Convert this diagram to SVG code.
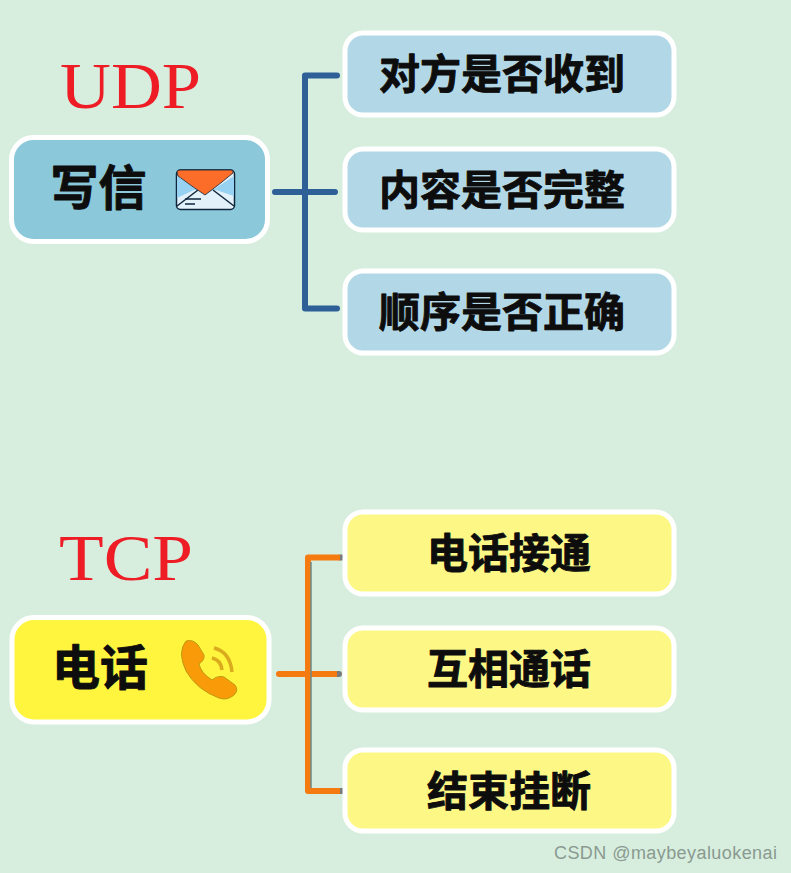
<svg xmlns="http://www.w3.org/2000/svg" width="791" height="873" viewBox="0 0 791 873">
<style>
.bg{fill:#d7eedf}
.box{stroke:#fff;stroke-width:5}
.t{font-family:"Noto Sans CJK SC","Noto Sans CJK JP",sans-serif;font-weight:700;fill:#0d0d0d;stroke:#0d0d0d;stroke-width:.9;stroke-linejoin:round;text-anchor:middle}
.s{font-size:41px}
.m{font-size:48px}
.h{font-family:"Liberation Serif",serif;font-size:66px;fill:#ee1c25}
.blue{fill:none;stroke:#2f5f97;stroke-width:6;stroke-linecap:round;stroke-linejoin:round}
.or{fill:none;stroke:#f57a10;stroke-width:6;stroke-linejoin:round}
.tip{fill:none;stroke:#77797a;stroke-width:6;stroke-linecap:round}
.b1{fill:#8ac8da}.b2{fill:#b2d8e8}.y1{fill:#fff53f}.y2{fill:#fdf886}
</style>
<rect class="bg" width="791" height="873"/>
<text id="label-udp" class="h" x="60" y="108" textLength="141" lengthAdjust="spacingAndGlyphs">UDP</text>
<text id="label-tcp" class="h" x="59" y="580" textLength="134" lengthAdjust="spacingAndGlyphs">TCP</text>
<g id="connectors">
<path class="blue" d="M337 75.500H305V308.500H337M275 192H335"/>
<path class="tip" d="M340 557.500H342M340 791H342M337 674H339"/>
<path class="or" d="M340 557.500H308V791H340M280 674H337"/>
<path d="M279 674H282" class="or" stroke-linecap="round"/>
<path d="M311 562V788" fill="none" stroke="#6f8a86" stroke-width="1.500"/>
</g>
<g id="node-letter">
<rect class="box b1" x="11.500" y="137.500" width="256" height="104" rx="22"/>
<text class="t m" x="98.500" y="205">写信</text>
<g id="icon-envelope">
<rect x="176.500" y="170" width="58" height="39.500" rx="4" fill="#e3f1fa" stroke="#10263c" stroke-width="1.500"/>
<path d="M177 176L205 195L234 176V196L216 190H194L177 198Z" fill="#98d2f3"/>
<path d="M177 206L198 190M234 206L213 190" fill="none" stroke="#10263c" stroke-width="1.500"/>
<path d="M177 172Q177 170 180 170H231Q234 170 233 173Q220 184 205 195Q190 185 178 176Z" fill="#fb6d28" stroke="#10263c" stroke-width=".8"/>
<path d="M185 199H201M185 204H195" stroke="#10263c" stroke-width="1.300"/>
</g>
</g>
<g id="node-u1">
<rect class="box b2" x="345" y="33" width="329" height="82" rx="18"/>
<text class="t s" x="502" y="89">对方是否收到</text>
</g>
<g id="node-u2">
<rect class="box b2" x="345" y="149" width="329" height="81" rx="18"/>
<text class="t s" x="502" y="205">内容是否完整</text>
</g>
<g id="node-u3">
<rect class="box b2" x="345" y="271" width="329" height="82" rx="18"/>
<text class="t s" x="502" y="327">顺序是否正确</text>
</g>
<g id="node-phone">
<rect class="box y1" x="12" y="617.500" width="257" height="104.500" rx="22"/>
<text class="t m" x="100" y="685">电话</text>
<g id="icon-phone">
<path d="M186 641Q193 639 198 645L204 655Q205 660 199 664Q201 673 212 680Q218 675 224 677L235 685Q239 690 234 695Q227 701 219 698Q197 690 186 671Q177 652 186 641Z" fill="#f99a08" stroke="#c09a10" stroke-width="1"/>
<path d="M212 658Q221 660 222 670M214 648Q230 652 232 672" fill="none" stroke="#d9ab1d" stroke-width="3.500"/>
</g>
</g>
<g id="node-t1">
<rect class="box y2" x="345" y="512" width="329" height="82" rx="18"/>
<text class="t s" x="509" y="568">电话接通</text>
</g>
<g id="node-t2">
<rect class="box y2" x="345" y="628" width="329" height="82" rx="18"/>
<text class="t s" x="509" y="684">互相通话</text>
</g>
<g id="node-t3">
<rect class="box y2" x="345" y="750" width="329" height="81" rx="18"/>
<text class="t s" x="509" y="806">结束挂断</text>
</g>
<text id="watermark" x="554" y="859" font-family="'Liberation Sans',sans-serif" font-size="18" fill="#8a9a90" textLength="223">CSDN @maybeyaluokenai</text>
</svg>
